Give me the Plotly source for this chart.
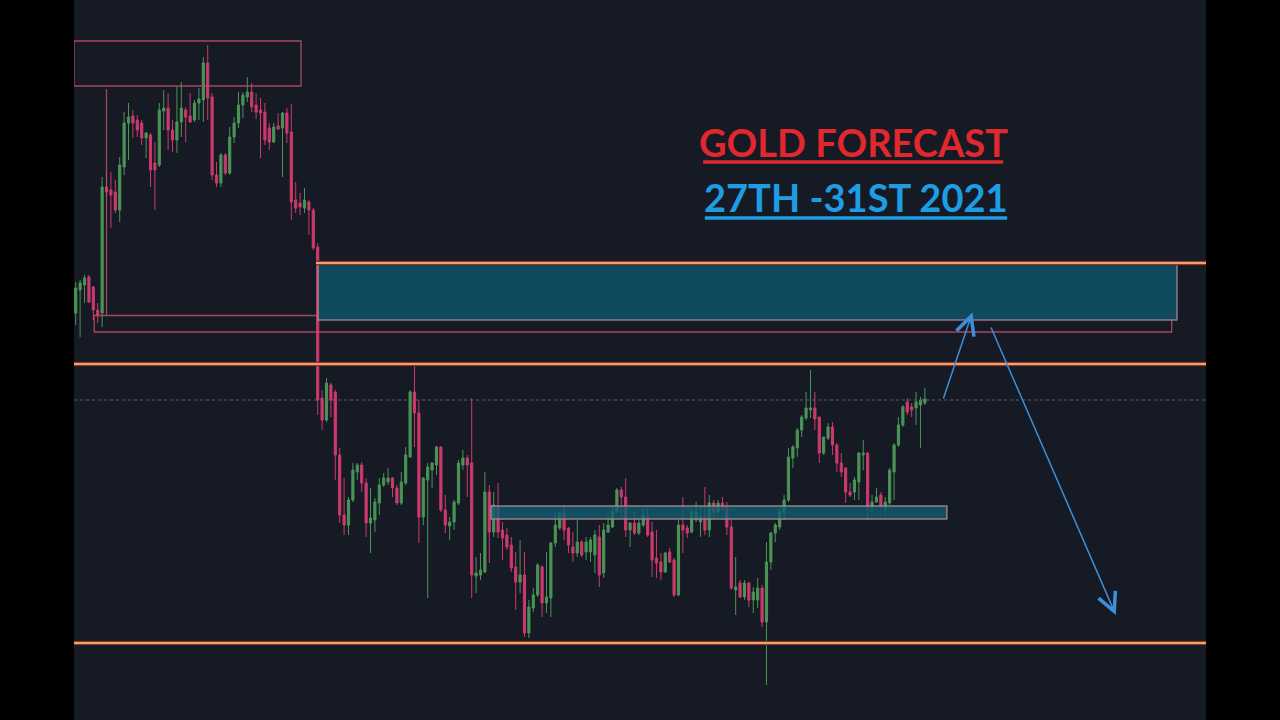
import plotly.graph_objects as go

# ---- hourly gold candles (price units) ----
OPEN = [1798.7, 1801.0, 1801.5, 1802.3, 1801.3, 1799.0, 1798.7, 1811.3, 1811.0, 1810.8,
        1809.0, 1813.3, 1817.7, 1818.4, 1818.0, 1817.7, 1816.2, 1816.5, 1813.7, 1813.5,
        1818.9, 1819.2, 1817.0, 1816.0, 1817.8, 1819.0, 1818.4, 1818.0, 1819.7, 1820.0,
        1823.7, 1820.3, 1812.5, 1811.7, 1814.5, 1812.7, 1816.3, 1817.7, 1819.5, 1820.3,
        1820.8, 1819.5, 1819.0, 1818.8, 1817.2, 1815.8, 1817.4, 1817.2, 1818.7, 1816.8,
        1810.0, 1809.7, 1809.2, 1809.8, 1809.0, 1805.3, 1790.2, 1788.0, 1791.5, 1790.8,
        1784.5, 1778.5, 1777.5, 1780.0, 1782.8, 1783.5, 1781.7, 1777.7, 1778.0, 1779.7,
        1781.5, 1781.8, 1782.2, 1781.2, 1779.7, 1781.7, 1784.3, 1790.8, 1788.7, 1778.3,
        1782.0, 1783.0, 1783.5, 1785.3, 1779.0, 1777.4, 1777.8, 1779.7, 1783.5, 1784.2,
        1783.7, 1772.4, 1772.5, 1772.8, 1780.8, 1776.8, 1779.3, 1777.0, 1776.5, 1775.5,
        1773.3, 1771.8, 1772.5, 1766.7, 1769.2, 1770.5, 1773.3, 1769.7, 1770.2, 1775.7,
        1777.2, 1778.7, 1777.2, 1775.3, 1774.7, 1775.8, 1774.8, 1774.8, 1774.5, 1776.3,
        1772.7, 1776.8, 1777.3, 1778.8, 1781.0, 1780.3, 1777.0, 1777.7, 1776.7, 1777.5,
        1778.3, 1776.8, 1774.2, 1773.8, 1772.8, 1774.8, 1774.0, 1770.5, 1777.5, 1777.2,
        1776.8, 1778.0, 1777.8, 1778.2, 1777.0, 1779.7, 1778.8, 1779.7, 1779.3, 1777.3,
        1771.0, 1771.7, 1770.3, 1771.7, 1770.0, 1770.0, 1771.2, 1767.8, 1773.8, 1776.7,
        1777.3, 1778.7, 1780.0, 1784.2, 1785.2, 1787.0, 1788.2, 1789.0, 1789.2, 1788.3,
        1784.7, 1786.2, 1787.3, 1785.5, 1783.7, 1783.2, 1780.8, 1780.8, 1781.8, 1784.5,
        1784.7, 1779.3, 1779.8, 1780.5, 1779.3, 1779.7, 1782.8, 1785.5, 1787.5, 1789.8,
        1789.3, 1789.2, 1789.5, 1789.7]
HIGH = [1801.8, 1802.0, 1802.5, 1802.5, 1801.4, 1799.7, 1812.3, 1812.8, 1812.8, 1812.0,
        1814.3, 1818.8, 1819.7, 1819.0, 1818.5, 1818.0, 1816.8, 1816.7, 1815.8, 1819.7,
        1821.0, 1820.7, 1818.0, 1821.3, 1821.8, 1819.3, 1820.7, 1820.0, 1821.2, 1824.3,
        1825.5, 1820.7, 1813.8, 1814.7, 1814.7, 1817.3, 1818.3, 1820.8, 1820.8, 1822.3,
        1821.7, 1820.7, 1820.2, 1819.7, 1817.7, 1817.7, 1818.7, 1818.8, 1819.2, 1819.6,
        1811.8, 1810.7, 1811.2, 1810.0, 1809.2, 1805.7, 1791.0, 1792.2, 1791.7, 1791.0,
        1785.2, 1782.2, 1780.3, 1783.7, 1783.7, 1783.8, 1782.2, 1781.2, 1780.2, 1782.2,
        1782.7, 1783.2, 1782.3, 1781.5, 1782.8, 1785.3, 1791.0, 1793.7, 1790.0, 1782.3,
        1783.7, 1783.8, 1785.4, 1785.4, 1780.5, 1778.3, 1780.0, 1784.0, 1785.0, 1784.5,
        1790.2, 1774.3, 1774.7, 1782.8, 1781.5, 1780.8, 1781.7, 1777.8, 1777.2, 1776.3,
        1774.8, 1776.0, 1774.8, 1770.0, 1771.2, 1773.7, 1773.5, 1774.8, 1775.8, 1778.7,
        1778.8, 1779.5, 1777.3, 1776.8, 1778.0, 1776.0, 1776.3, 1776.3, 1777.0, 1777.5,
        1777.7, 1778.5, 1779.3, 1781.2, 1781.3, 1782.2, 1777.8, 1778.8, 1778.2, 1779.2,
        1779.2, 1777.8, 1777.0, 1774.7, 1774.8, 1775.2, 1774.2, 1778.0, 1780.3, 1777.5,
        1779.0, 1779.8, 1779.3, 1781.3, 1780.5, 1780.0, 1780.0, 1780.3, 1779.8, 1778.0,
        1774.3, 1772.0, 1772.0, 1771.8, 1771.3, 1772.2, 1771.5, 1775.8, 1776.8, 1777.7,
        1779.2, 1780.5, 1785.2, 1785.5, 1787.2, 1788.5, 1790.8, 1793.0, 1790.8, 1788.3,
        1786.3, 1787.7, 1787.8, 1785.7, 1784.7, 1783.3, 1781.7, 1782.3, 1784.8, 1786.0,
        1784.8, 1780.5, 1781.2, 1780.8, 1780.3, 1783.2, 1785.7, 1788.3, 1789.5, 1790.2,
        1789.7, 1790.8, 1790.3, 1791.2]
LOW = [1797.5, 1796.3, 1799.7, 1799.7, 1798.0, 1797.7, 1797.3, 1810.3, 1807.2, 1808.7,
       1807.8, 1812.5, 1814.0, 1816.2, 1816.3, 1815.5, 1814.2, 1811.3, 1809.0, 1813.3,
       1817.0, 1815.0, 1814.8, 1814.7, 1816.3, 1815.8, 1817.7, 1817.8, 1818.0, 1817.8,
       1818.0, 1812.0, 1811.3, 1811.3, 1812.5, 1812.5, 1815.7, 1817.2, 1818.2, 1819.8,
       1818.8, 1818.1, 1814.2, 1815.5, 1815.0, 1815.7, 1817.0, 1812.3, 1815.7, 1808.0,
       1808.7, 1808.5, 1808.7, 1806.5, 1805.0, 1788.5, 1787.0, 1787.8, 1788.3, 1782.0,
       1777.7, 1776.5, 1776.5, 1779.8, 1782.0, 1780.8, 1776.3, 1774.7, 1776.8, 1778.5,
       1781.3, 1781.5, 1780.3, 1779.5, 1779.5, 1781.5, 1784.2, 1785.3, 1775.7, 1777.5,
       1770.2, 1781.2, 1782.5, 1778.8, 1776.7, 1776.0, 1777.0, 1779.5, 1783.0, 1780.3,
       1770.2, 1770.7, 1772.0, 1772.7, 1773.7, 1776.3, 1776.2, 1774.0, 1775.0, 1772.8,
       1769.0, 1770.7, 1766.3, 1766.2, 1768.8, 1770.3, 1768.3, 1768.7, 1768.3, 1775.3,
       1777.0, 1776.0, 1774.7, 1773.8, 1774.3, 1774.3, 1774.0, 1773.8, 1772.7, 1771.3,
       1772.2, 1776.7, 1777.2, 1778.7, 1778.3, 1776.3, 1775.3, 1776.5, 1776.5, 1777.3,
       1776.3, 1772.3, 1772.2, 1772.0, 1772.7, 1773.7, 1770.3, 1770.4, 1774.7, 1776.2,
       1776.7, 1777.8, 1776.3, 1776.5, 1776.3, 1778.3, 1778.7, 1779.0, 1776.5, 1771.0,
       1768.5, 1770.2, 1770.0, 1769.3, 1768.7, 1769.2, 1767.3, 1761.5, 1773.0, 1775.8,
       1777.0, 1778.0, 1779.8, 1783.2, 1784.3, 1786.3, 1788.0, 1788.2, 1787.0, 1783.7,
       1784.5, 1786.0, 1784.5, 1782.8, 1782.3, 1779.7, 1780.3, 1780.0, 1780.0, 1783.0,
       1778.0, 1778.8, 1779.7, 1779.2, 1778.5, 1779.5, 1780.0, 1785.3, 1787.3, 1788.5,
       1788.3, 1787.5, 1785.2, 1789.5]
CLOSE = [1801.2, 1801.7, 1802.2, 1799.8, 1799.0, 1798.5, 1811.3, 1810.8, 1810.5, 1809.0,
         1813.5, 1817.7, 1818.3, 1817.7, 1817.0, 1816.2, 1816.7, 1813.0, 1813.0, 1819.0,
         1819.2, 1817.0, 1816.0, 1817.8, 1819.2, 1818.3, 1817.8, 1819.7, 1820.1, 1823.7,
         1820.2, 1812.5, 1811.7, 1814.5, 1812.7, 1816.3, 1817.7, 1819.5, 1820.5, 1820.8,
         1819.3, 1818.8, 1818.7, 1816.0, 1815.8, 1817.3, 1817.1, 1818.7, 1816.7, 1809.8,
         1809.2, 1809.3, 1810.0, 1809.0, 1805.2, 1790.0, 1788.0, 1791.7, 1790.0, 1784.5,
         1778.5, 1777.5, 1780.0, 1783.0, 1783.5, 1781.7, 1777.7, 1778.2, 1779.8, 1781.5,
         1782.2, 1782.2, 1781.2, 1779.7, 1781.8, 1784.5, 1790.8, 1788.7, 1778.3, 1782.2,
         1783.3, 1783.7, 1785.3, 1779.0, 1777.5, 1777.8, 1779.8, 1783.7, 1784.2, 1783.5,
         1772.5, 1772.7, 1773.0, 1780.8, 1776.8, 1779.5, 1776.8, 1776.2, 1775.3, 1773.2,
         1771.8, 1772.5, 1766.7, 1769.3, 1770.5, 1773.5, 1769.7, 1770.3, 1775.7, 1777.5,
         1778.7, 1777.0, 1775.5, 1774.7, 1775.8, 1774.5, 1775.8, 1776.0, 1776.5, 1772.5,
         1777.0, 1777.5, 1778.8, 1781.0, 1780.3, 1777.0, 1777.7, 1776.7, 1777.7, 1778.5,
         1776.5, 1774.0, 1773.7, 1772.8, 1774.7, 1773.8, 1770.5, 1777.5, 1777.0, 1776.7,
         1778.8, 1778.8, 1778.3, 1777.0, 1779.7, 1778.8, 1779.7, 1779.3, 1777.3, 1771.2,
         1771.3, 1770.3, 1771.7, 1770.0, 1770.8, 1771.2, 1767.8, 1773.8, 1776.7, 1777.5,
         1778.8, 1780.0, 1784.3, 1785.3, 1787.0, 1788.3, 1789.2, 1789.2, 1788.1, 1784.7,
         1786.3, 1787.3, 1785.5, 1783.7, 1782.8, 1780.8, 1780.5, 1782.0, 1784.7, 1784.7,
         1779.3, 1779.8, 1780.3, 1779.3, 1779.8, 1783.0, 1785.5, 1787.5, 1789.3, 1788.8,
         1789.0, 1789.8, 1790.0, 1790.1]
BAR = list(range(len(OPEN)))

# ---- drawn levels / zones (price, bar index) ----
SUPPLY_TOP, SUPPLY_BOTTOM = 1803.7, 1798.0
ORDER_BLOCK_TOP, ORDER_BLOCK_BOTTOM = 1798.45, 1796.8
HIGH_BOX_TOP, HIGH_BOX_BOTTOM = 1825.9, 1821.4
RESISTANCE = 1793.6
SUPPORT = 1765.7
DEMAND_TOP, DEMAND_BOTTOM = 1779.4, 1778.1
LAST_PRICE = 1790.0
TITLE = "GOLD FORECAST"
SUBTITLE = "27TH -31ST 2021"

BG = "#161a25"
GREEN = "#4a9457"
RED = "#cc3a6c"
ORANGE = "#f3a068"
BOX_RED = "rgba(190,80,105,0.85)"
BOX_EDGE = "rgba(175,140,152,0.85)"
TEAL = "#0f4d5f"
BLUE = "#3d8fd8"

X_MIN, X_MAX = -0.39, 256.9
Y_MIN, Y_MAX = 1758.0, 1830.0

fig = go.Figure()
fig.add_trace(go.Candlestick(
    x=BAR, open=OPEN, high=HIGH, low=LOW, close=CLOSE,
    increasing=dict(line=dict(color=GREEN, width=1), fillcolor=GREEN),
    decreasing=dict(line=dict(color=RED, width=1), fillcolor=RED),
    whiskerwidth=0, showlegend=False, hoverinfo="skip",
))

shapes = []
# top box around the high
shapes.append(dict(type="rect", xref="x", yref="y", x0=X_MIN, x1=51.2,
                   y0=HIGH_BOX_BOTTOM, y1=HIGH_BOX_TOP, line=dict(color=BOX_RED, width=1.3)))
shapes.append(dict(type="line", xref="x", yref="y", x0=7.0, x1=7.0,
                   y0=ORDER_BLOCK_TOP, y1=1821.1, line=dict(color=BOX_RED, width=1.3)))
# order block outline
shapes.append(dict(type="rect", xref="x", yref="y", x0=4.2, x1=249.1,
                   y0=ORDER_BLOCK_BOTTOM, y1=ORDER_BLOCK_TOP, line=dict(color=BOX_RED, width=1.3)))
# supply zone
shapes.append(dict(type="rect", xref="x", yref="y", x0=55.1, x1=250.3,
                   y0=SUPPLY_BOTTOM, y1=SUPPLY_TOP, fillcolor=TEAL, opacity=0.95,
                   line=dict(color=BOX_EDGE, width=1.5)))
# demand zone
shapes.append(dict(type="rect", xref="x", yref="y", x0=94.4, x1=198.0,
                   y0=DEMAND_BOTTOM, y1=DEMAND_TOP, fillcolor="rgba(18,92,112,0.8)",
                   line=dict(color=BOX_EDGE, width=1.5)))
# last price dotted line
shapes.append(dict(type="line", xref="paper", yref="y", x0=0, x1=1,
                   y0=LAST_PRICE, y1=LAST_PRICE, line=dict(color="#5d6370", width=1, dash="dot")))
# orange levels (dark edge + orange core)
for (xr, x0, x1, lvl) in [("x", 54.6, X_MAX, SUPPLY_TOP), ("paper", 0, 1, RESISTANCE), ("paper", 0, 1, SUPPORT)]:
    shapes.append(dict(type="line", xref=xr, yref="y", x0=x0, x1=x1, y0=lvl, y1=lvl,
                       line=dict(color="#5e1c1c", width=4.5)))
    shapes.append(dict(type="line", xref=xr, yref="y", x0=x0, x1=x1, y0=lvl, y1=lvl,
                       line=dict(color=ORANGE, width=2.5)))
# title underlines
shapes.append(dict(type="line", xref="x", yref="y", x0=142.6, x1=210.8, y0=1813.8, y1=1813.8,
                   line=dict(color="#e0282e", width=3.5)))
shapes.append(dict(type="line", xref="x", yref="y", x0=143.0, x1=211.7, y0=1808.2, y1=1808.2,
                   line=dict(color="#1f9de3", width=3.5)))

annotations = [
    dict(x=203.8, y=1798.75, ax=197.1, ay=1790.0, xref="x", yref="y", axref="x", ayref="y",
         showarrow=True, arrowhead=5, arrowsize=2.4, arrowwidth=1.5, arrowcolor=BLUE, text=""),
    dict(x=236.4, y=1768.5, ax=207.9, ay=1797.4, xref="x", yref="y", axref="x", ayref="y",
         showarrow=True, arrowhead=5, arrowsize=2.4, arrowwidth=1.5, arrowcolor=BLUE, text=""),
    dict(x=176.7, y=1815.8, xref="x", yref="y", text="<b>" + TITLE + "</b>", showarrow=False,
         font=dict(family="Lato", size=38, color="#e0282e")),
    dict(x=177.3, y=1810.3, xref="x", yref="y", text="<b>" + SUBTITLE + "</b>", showarrow=False,
         font=dict(family="Lato", size=38, color="#1f9de3")),
]

fig.update_layout(
    width=1280, height=720,
    margin=dict(l=74, r=74, t=0, b=0, pad=0),
    paper_bgcolor="#000000", plot_bgcolor=BG,
    shapes=shapes, annotations=annotations,
    showlegend=False, boxgap=0.3,
    xaxis=dict(range=[X_MIN, X_MAX], visible=False, rangeslider=dict(visible=False),
               showgrid=False, zeroline=False),
    yaxis=dict(range=[Y_MIN, Y_MAX], visible=False, showgrid=False, zeroline=False),
)

fig.write_html("out.html", config={"displayModeBar": False})
